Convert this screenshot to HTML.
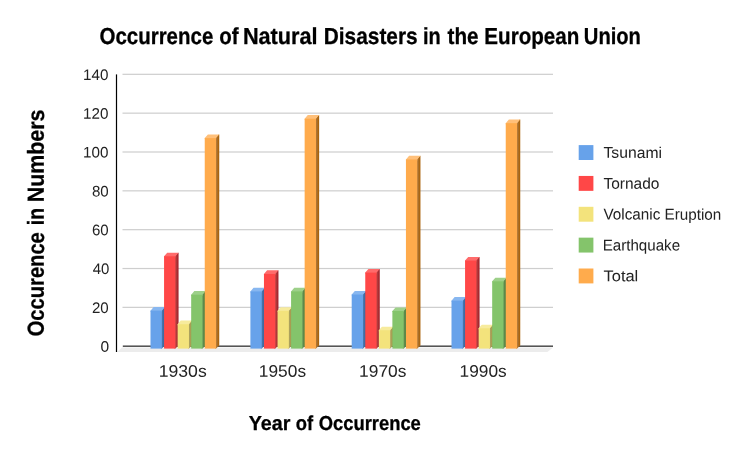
<!DOCTYPE html>
<html lang="en"><head><meta charset="utf-8"><title>Occurrence of Natural Disasters in the European Union</title>
<style>html,body{margin:0;padding:0;background:#fff}body{width:740px;height:458px;overflow:hidden}</style></head>
<body>
<svg width="740" height="458" viewBox="0 0 740 458" style="display:block;font-family:'Liberation Sans', sans-serif">
<rect width="740" height="458" fill="#fff"/>
<defs><linearGradient id="sg0" x1="0" y1="0" x2="1" y2="0"><stop offset="0.3" stop-color="#4b76aa"/><stop offset="1" stop-color="#33609c"/></linearGradient><linearGradient id="sg1" x1="0" y1="0" x2="1" y2="0"><stop offset="0.3" stop-color="#b64242"/><stop offset="1" stop-color="#a01c26"/></linearGradient><linearGradient id="sg2" x1="0" y1="0" x2="1" y2="0"><stop offset="0.3" stop-color="#ada362"/><stop offset="1" stop-color="#a3963f"/></linearGradient><linearGradient id="sg3" x1="0" y1="0" x2="1" y2="0"><stop offset="0.3" stop-color="#618c51"/><stop offset="1" stop-color="#4c803a"/></linearGradient><linearGradient id="sg4" x1="0" y1="0" x2="1" y2="0"><stop offset="0.3" stop-color="#ad7638"/><stop offset="1" stop-color="#a85e02"/></linearGradient></defs>
<rect x="122.5" y="306.76" width="430.5" height="1.2" fill="#cecece"/>
<rect x="122.5" y="267.92" width="430.5" height="1.2" fill="#cecece"/>
<rect x="122.5" y="229.08" width="430.5" height="1.2" fill="#cecece"/>
<rect x="122.5" y="190.24" width="430.5" height="1.2" fill="#cecece"/>
<rect x="122.5" y="151.40" width="430.5" height="1.2" fill="#cecece"/>
<rect x="122.5" y="112.56" width="430.5" height="1.2" fill="#cecece"/>
<rect x="122.5" y="73.72" width="430.5" height="1.2" fill="#cecece"/>
<polygon points="122,347.6 553,347.6 547.4,352 117.3,352" fill="#ececec"/>
<rect x="122.8" y="345.45" width="430.2" height="1.5" fill="#4d4d4d"/>
<rect x="115.9" y="74.4" width="1.2" height="277.6" fill="#000"/>
<polygon points="160.85,310.63 164.00,307.33 165.00,307.03 165.00,345.60 161.85,348.60 160.85,348.60" fill="url(#sg0)"/>
<polygon points="150.50,311.63 150.50,310.63 153.65,307.03 165.00,307.03 161.85,310.63 161.85,311.63" fill="#88b7f0"/>
<rect x="150.50" y="310.63" width="11.35" height="37.97" fill="#67a2ea"/>
<polygon points="174.41,256.30 177.56,253.00 178.56,252.70 178.56,345.60 175.41,348.60 174.41,348.60" fill="url(#sg1)"/>
<polygon points="164.06,257.30 164.06,256.30 167.21,252.70 178.56,252.70 175.41,256.30 175.41,257.30" fill="#ff6b6b"/>
<rect x="164.06" y="256.30" width="11.35" height="92.30" fill="#ff4747"/>
<polygon points="187.97,324.22 191.12,320.92 192.12,320.62 192.12,345.60 188.97,348.60 187.97,348.60" fill="url(#sg2)"/>
<polygon points="177.62,325.22 177.62,324.22 180.77,320.62 192.12,320.62 188.97,324.22 188.97,325.22" fill="#f7eb9d"/>
<rect x="177.62" y="324.22" width="11.35" height="24.38" fill="#f3e37c"/>
<polygon points="201.53,294.72 204.68,291.42 205.68,291.12 205.68,345.60 202.53,348.60 201.53,348.60" fill="url(#sg3)"/>
<polygon points="191.18,295.72 191.18,294.72 194.33,291.12 205.68,291.12 202.53,294.72 202.53,295.72" fill="#9dd089"/>
<rect x="191.18" y="294.72" width="11.35" height="53.88" fill="#84c46b"/>
<polygon points="215.09,138.12 218.24,134.82 219.24,134.52 219.24,345.60 216.09,348.60 215.09,348.60" fill="url(#sg4)"/>
<polygon points="204.74,139.12 204.74,138.12 207.89,134.52 219.24,134.52 216.09,138.12 216.09,139.12" fill="#ffc07a"/>
<rect x="204.74" y="138.12" width="11.35" height="210.48" fill="#ffab4c"/>
<polygon points="260.75,291.42 263.90,288.12 264.90,287.82 264.90,345.60 261.75,348.60 260.75,348.60" fill="url(#sg0)"/>
<polygon points="250.40,292.42 250.40,291.42 253.55,287.82 264.90,287.82 261.75,291.42 261.75,292.42" fill="#88b7f0"/>
<rect x="250.40" y="291.42" width="11.35" height="57.18" fill="#67a2ea"/>
<polygon points="274.31,273.96 277.46,270.66 278.46,270.36 278.46,345.60 275.31,348.60 274.31,348.60" fill="url(#sg1)"/>
<polygon points="263.96,274.96 263.96,273.96 267.11,270.36 278.46,270.36 275.31,273.96 275.31,274.96" fill="#ff6b6b"/>
<rect x="263.96" y="273.96" width="11.35" height="74.64" fill="#ff4747"/>
<polygon points="287.87,310.83 291.02,307.53 292.02,307.23 292.02,345.60 288.87,348.60 287.87,348.60" fill="url(#sg2)"/>
<polygon points="277.52,311.83 277.52,310.83 280.67,307.23 292.02,307.23 288.87,310.83 288.87,311.83" fill="#f7eb9d"/>
<rect x="277.52" y="310.83" width="11.35" height="37.77" fill="#f3e37c"/>
<polygon points="301.43,291.42 304.58,288.12 305.58,287.82 305.58,345.60 302.43,348.60 301.43,348.60" fill="url(#sg3)"/>
<polygon points="291.08,292.42 291.08,291.42 294.23,287.82 305.58,287.82 302.43,291.42 302.43,292.42" fill="#9dd089"/>
<rect x="291.08" y="291.42" width="11.35" height="57.18" fill="#84c46b"/>
<polygon points="314.99,118.71 318.14,115.41 319.14,115.11 319.14,345.60 315.99,348.60 314.99,348.60" fill="url(#sg4)"/>
<polygon points="304.64,119.71 304.64,118.71 307.79,115.11 319.14,115.11 315.99,118.71 315.99,119.71" fill="#ffc07a"/>
<rect x="304.64" y="118.71" width="11.35" height="229.89" fill="#ffab4c"/>
<polygon points="362.05,294.53 365.20,291.23 366.20,290.93 366.20,345.60 363.05,348.60 362.05,348.60" fill="url(#sg0)"/>
<polygon points="351.70,295.53 351.70,294.53 354.85,290.93 366.20,290.93 363.05,294.53 363.05,295.53" fill="#88b7f0"/>
<rect x="351.70" y="294.53" width="11.35" height="54.07" fill="#67a2ea"/>
<polygon points="375.61,272.60 378.76,269.30 379.76,269.00 379.76,345.60 376.61,348.60 375.61,348.60" fill="url(#sg1)"/>
<polygon points="365.26,273.60 365.26,272.60 368.41,269.00 379.76,269.00 376.61,272.60 376.61,273.60" fill="#ff6b6b"/>
<rect x="365.26" y="272.60" width="11.35" height="76.00" fill="#ff4747"/>
<polygon points="389.17,330.23 392.32,326.93 393.32,326.63 393.32,345.60 390.17,348.60 389.17,348.60" fill="url(#sg2)"/>
<polygon points="378.82,331.23 378.82,330.23 381.97,326.63 393.32,326.63 390.17,330.23 390.17,331.23" fill="#f7eb9d"/>
<rect x="378.82" y="330.23" width="11.35" height="18.37" fill="#f3e37c"/>
<polygon points="402.73,311.02 405.88,307.72 406.88,307.42 406.88,345.60 403.73,348.60 402.73,348.60" fill="url(#sg3)"/>
<polygon points="392.38,312.02 392.38,311.02 395.53,307.42 406.88,307.42 403.73,311.02 403.73,312.02" fill="#9dd089"/>
<rect x="392.38" y="311.02" width="11.35" height="37.58" fill="#84c46b"/>
<polygon points="416.29,159.46 419.44,156.16 420.44,155.86 420.44,345.60 417.29,348.60 416.29,348.60" fill="url(#sg4)"/>
<polygon points="405.94,160.46 405.94,159.46 409.09,155.86 420.44,155.86 417.29,159.46 417.29,160.46" fill="#ffc07a"/>
<rect x="405.94" y="159.46" width="11.35" height="189.14" fill="#ffab4c"/>
<polygon points="461.85,300.64 465.00,297.34 466.00,297.04 466.00,345.60 462.85,348.60 461.85,348.60" fill="url(#sg0)"/>
<polygon points="451.50,301.64 451.50,300.64 454.65,297.04 466.00,297.04 462.85,300.64 462.85,301.64" fill="#88b7f0"/>
<rect x="451.50" y="300.64" width="11.35" height="47.96" fill="#67a2ea"/>
<polygon points="475.41,260.57 478.56,257.27 479.56,256.97 479.56,345.60 476.41,348.60 475.41,348.60" fill="url(#sg1)"/>
<polygon points="465.06,261.57 465.06,260.57 468.21,256.97 479.56,256.97 476.41,260.57 476.41,261.57" fill="#ff6b6b"/>
<rect x="465.06" y="260.57" width="11.35" height="88.03" fill="#ff4747"/>
<polygon points="488.97,328.29 492.12,324.99 493.12,324.69 493.12,345.60 489.97,348.60 488.97,348.60" fill="url(#sg2)"/>
<polygon points="478.62,329.29 478.62,328.29 481.77,324.69 493.12,324.69 489.97,328.29 489.97,329.29" fill="#f7eb9d"/>
<rect x="478.62" y="328.29" width="11.35" height="20.31" fill="#f3e37c"/>
<polygon points="502.53,281.33 505.68,278.03 506.68,277.73 506.68,345.60 503.53,348.60 502.53,348.60" fill="url(#sg3)"/>
<polygon points="492.18,282.33 492.18,281.33 495.33,277.73 506.68,277.73 503.53,281.33 503.53,282.33" fill="#9dd089"/>
<rect x="492.18" y="281.33" width="11.35" height="67.27" fill="#84c46b"/>
<polygon points="516.09,123.17 519.24,119.87 520.24,119.57 520.24,345.60 517.09,348.60 516.09,348.60" fill="url(#sg4)"/>
<polygon points="505.74,124.17 505.74,123.17 508.89,119.57 520.24,119.57 517.09,123.17 517.09,124.17" fill="#ffc07a"/>
<rect x="505.74" y="123.17" width="11.35" height="225.43" fill="#ffab4c"/>
<rect x="578.7" y="145.10" width="14.7" height="14.9" fill="#67a2ea"/>
<rect x="578.7" y="175.95" width="14.7" height="14.9" fill="#ff4747"/>
<rect x="578.7" y="206.80" width="14.7" height="14.9" fill="#f3e37c"/>
<rect x="578.7" y="237.65" width="14.7" height="14.9" fill="#84c46b"/>
<rect x="578.7" y="268.50" width="14.7" height="14.9" fill="#ffab4c"/>
<g>
<text transform="rotate(0.06 99.50 43.9)" x="99.50" y="43.9" font-size="23.2" font-weight="bold" fill="#000" stroke="#000" stroke-width="0.3" textLength="113.78" lengthAdjust="spacingAndGlyphs">Occurrence</text>
<text transform="rotate(0.06 219.23 43.9)" x="219.23" y="43.9" font-size="23.2" font-weight="bold" fill="#000" stroke="#000" stroke-width="0.3" textLength="19.28" lengthAdjust="spacingAndGlyphs">of</text>
<text transform="rotate(0.06 242.90 43.9)" x="242.90" y="43.9" font-size="23.2" font-weight="bold" fill="#000" stroke="#000" stroke-width="0.3" textLength="74.67" lengthAdjust="spacingAndGlyphs">Natural</text>
<text transform="rotate(0.06 323.74 43.9)" x="323.74" y="43.9" font-size="23.2" font-weight="bold" fill="#000" stroke="#000" stroke-width="0.3" textLength="93.96" lengthAdjust="spacingAndGlyphs">Disasters</text>
<text transform="rotate(0.06 422.90 43.9)" x="422.90" y="43.9" font-size="23.2" font-weight="bold" fill="#000" stroke="#000" stroke-width="0.3" textLength="17.74" lengthAdjust="spacingAndGlyphs">in</text>
<text transform="rotate(0.06 447.52 43.9)" x="447.52" y="43.9" font-size="23.2" font-weight="bold" fill="#000" stroke="#000" stroke-width="0.3" textLength="31.02" lengthAdjust="spacingAndGlyphs">the</text>
<text transform="rotate(0.06 484.33 43.9)" x="484.33" y="43.9" font-size="23.2" font-weight="bold" fill="#000" stroke="#000" stroke-width="0.3" textLength="94.97" lengthAdjust="spacingAndGlyphs">European</text>
<text transform="rotate(0.06 583.86 43.9)" x="583.86" y="43.9" font-size="23.2" font-weight="bold" fill="#000" stroke="#000" stroke-width="0.3" textLength="57.06" lengthAdjust="spacingAndGlyphs">Union</text>
<text transform="rotate(0.06 100.54 351.8)" x="100.54" y="351.8" font-size="15.3" font-weight="normal" fill="#222" textLength="8.64" lengthAdjust="spacingAndGlyphs">0</text>
<text transform="rotate(0.06 91.88 312.96)" x="91.88" y="312.96" font-size="15.3" font-weight="normal" fill="#222" textLength="16.76" lengthAdjust="spacingAndGlyphs">20</text>
<text transform="rotate(0.06 92.68 274.12)" x="92.68" y="274.12" font-size="15.3" font-weight="normal" fill="#222" textLength="16.62" lengthAdjust="spacingAndGlyphs">40</text>
<text transform="rotate(0.06 91.88 235.28)" x="91.88" y="235.28" font-size="15.3" font-weight="normal" fill="#222" textLength="16.70" lengthAdjust="spacingAndGlyphs">60</text>
<text transform="rotate(0.06 91.88 196.44)" x="91.88" y="196.44" font-size="15.3" font-weight="normal" fill="#222" textLength="16.76" lengthAdjust="spacingAndGlyphs">80</text>
<text transform="rotate(0.06 83.08 157.6)" x="83.08" y="157.6" font-size="15.3" font-weight="normal" fill="#222" textLength="25.35" lengthAdjust="spacingAndGlyphs">100</text>
<text transform="rotate(0.06 83.08 118.76)" x="83.08" y="118.76" font-size="15.3" font-weight="normal" fill="#222" textLength="25.35" lengthAdjust="spacingAndGlyphs">120</text>
<text transform="rotate(0.06 83.08 79.92)" x="83.08" y="79.92" font-size="15.3" font-weight="normal" fill="#222" textLength="25.35" lengthAdjust="spacingAndGlyphs">140</text>
<text transform="rotate(0.06 158.70 376.8)" x="158.70" y="376.8" font-size="16.8" font-weight="normal" fill="#222" textLength="48.05" lengthAdjust="spacingAndGlyphs">1930s</text>
<text transform="rotate(0.06 258.87 376.8)" x="258.87" y="376.8" font-size="16.8" font-weight="normal" fill="#222" textLength="47.20" lengthAdjust="spacingAndGlyphs">1950s</text>
<text transform="rotate(0.06 359.12 376.8)" x="359.12" y="376.8" font-size="16.8" font-weight="normal" fill="#222" textLength="47.31" lengthAdjust="spacingAndGlyphs">1970s</text>
<text transform="rotate(0.06 459.62 376.8)" x="459.62" y="376.8" font-size="16.8" font-weight="normal" fill="#222" textLength="47.13" lengthAdjust="spacingAndGlyphs">1990s</text>
<text transform="rotate(0.06 248.71 429.9)" x="248.71" y="429.9" font-size="20.3" font-weight="bold" fill="#000" stroke="#000" stroke-width="0.3" textLength="41.60" lengthAdjust="spacingAndGlyphs">Year</text>
<text transform="rotate(0.06 295.72 429.9)" x="295.72" y="429.9" font-size="20.3" font-weight="bold" fill="#000" stroke="#000" stroke-width="0.3" textLength="17.31" lengthAdjust="spacingAndGlyphs">of</text>
<text transform="rotate(0.06 318.70 429.9)" x="318.70" y="429.9" font-size="20.3" font-weight="bold" fill="#000" stroke="#000" stroke-width="0.3" textLength="102.15" lengthAdjust="spacingAndGlyphs">Occurrence</text>
<text transform="rotate(0.06 603.52 157.85)" x="603.52" y="157.85" font-size="15.6" font-weight="normal" fill="#222" textLength="58.49" lengthAdjust="spacingAndGlyphs">Tsunami</text>
<text transform="rotate(0.06 603.52 188.7)" x="603.52" y="188.7" font-size="15.6" font-weight="normal" fill="#222" textLength="55.90" lengthAdjust="spacingAndGlyphs">Tornado</text>
<text transform="rotate(0.06 603.52 219.55)" x="603.52" y="219.55" font-size="15.6" font-weight="normal" fill="#222" textLength="117.80" lengthAdjust="spacingAndGlyphs">Volcanic Eruption</text>
<text transform="rotate(0.06 602.72 250.4)" x="602.72" y="250.4" font-size="15.6" font-weight="normal" fill="#222" textLength="77.35" lengthAdjust="spacingAndGlyphs">Earthquake</text>
<text transform="rotate(0.06 603.52 281.25)" x="603.52" y="281.25" font-size="15.6" font-weight="normal" fill="#222" textLength="34.74" lengthAdjust="spacingAndGlyphs">Total</text>
</g>
<g transform="translate(43.8,335.9) rotate(-90)">
<text transform="rotate(0.06 -0.48 0)" x="-0.48" y="0" font-size="23.2" font-weight="bold" fill="#000" stroke="#000" stroke-width="0.3" textLength="104.19" lengthAdjust="spacingAndGlyphs">Occurence</text>
<text transform="rotate(0.06 110.66 0)" x="110.66" y="0" font-size="23.2" font-weight="bold" fill="#000" stroke="#000" stroke-width="0.3" textLength="17.21" lengthAdjust="spacingAndGlyphs">in</text>
<text transform="rotate(0.06 133.60 0)" x="133.60" y="0" font-size="23.2" font-weight="bold" fill="#000" stroke="#000" stroke-width="0.3" textLength="92.85" lengthAdjust="spacingAndGlyphs">Numbers</text>
</g>
</svg>
</body></html>
